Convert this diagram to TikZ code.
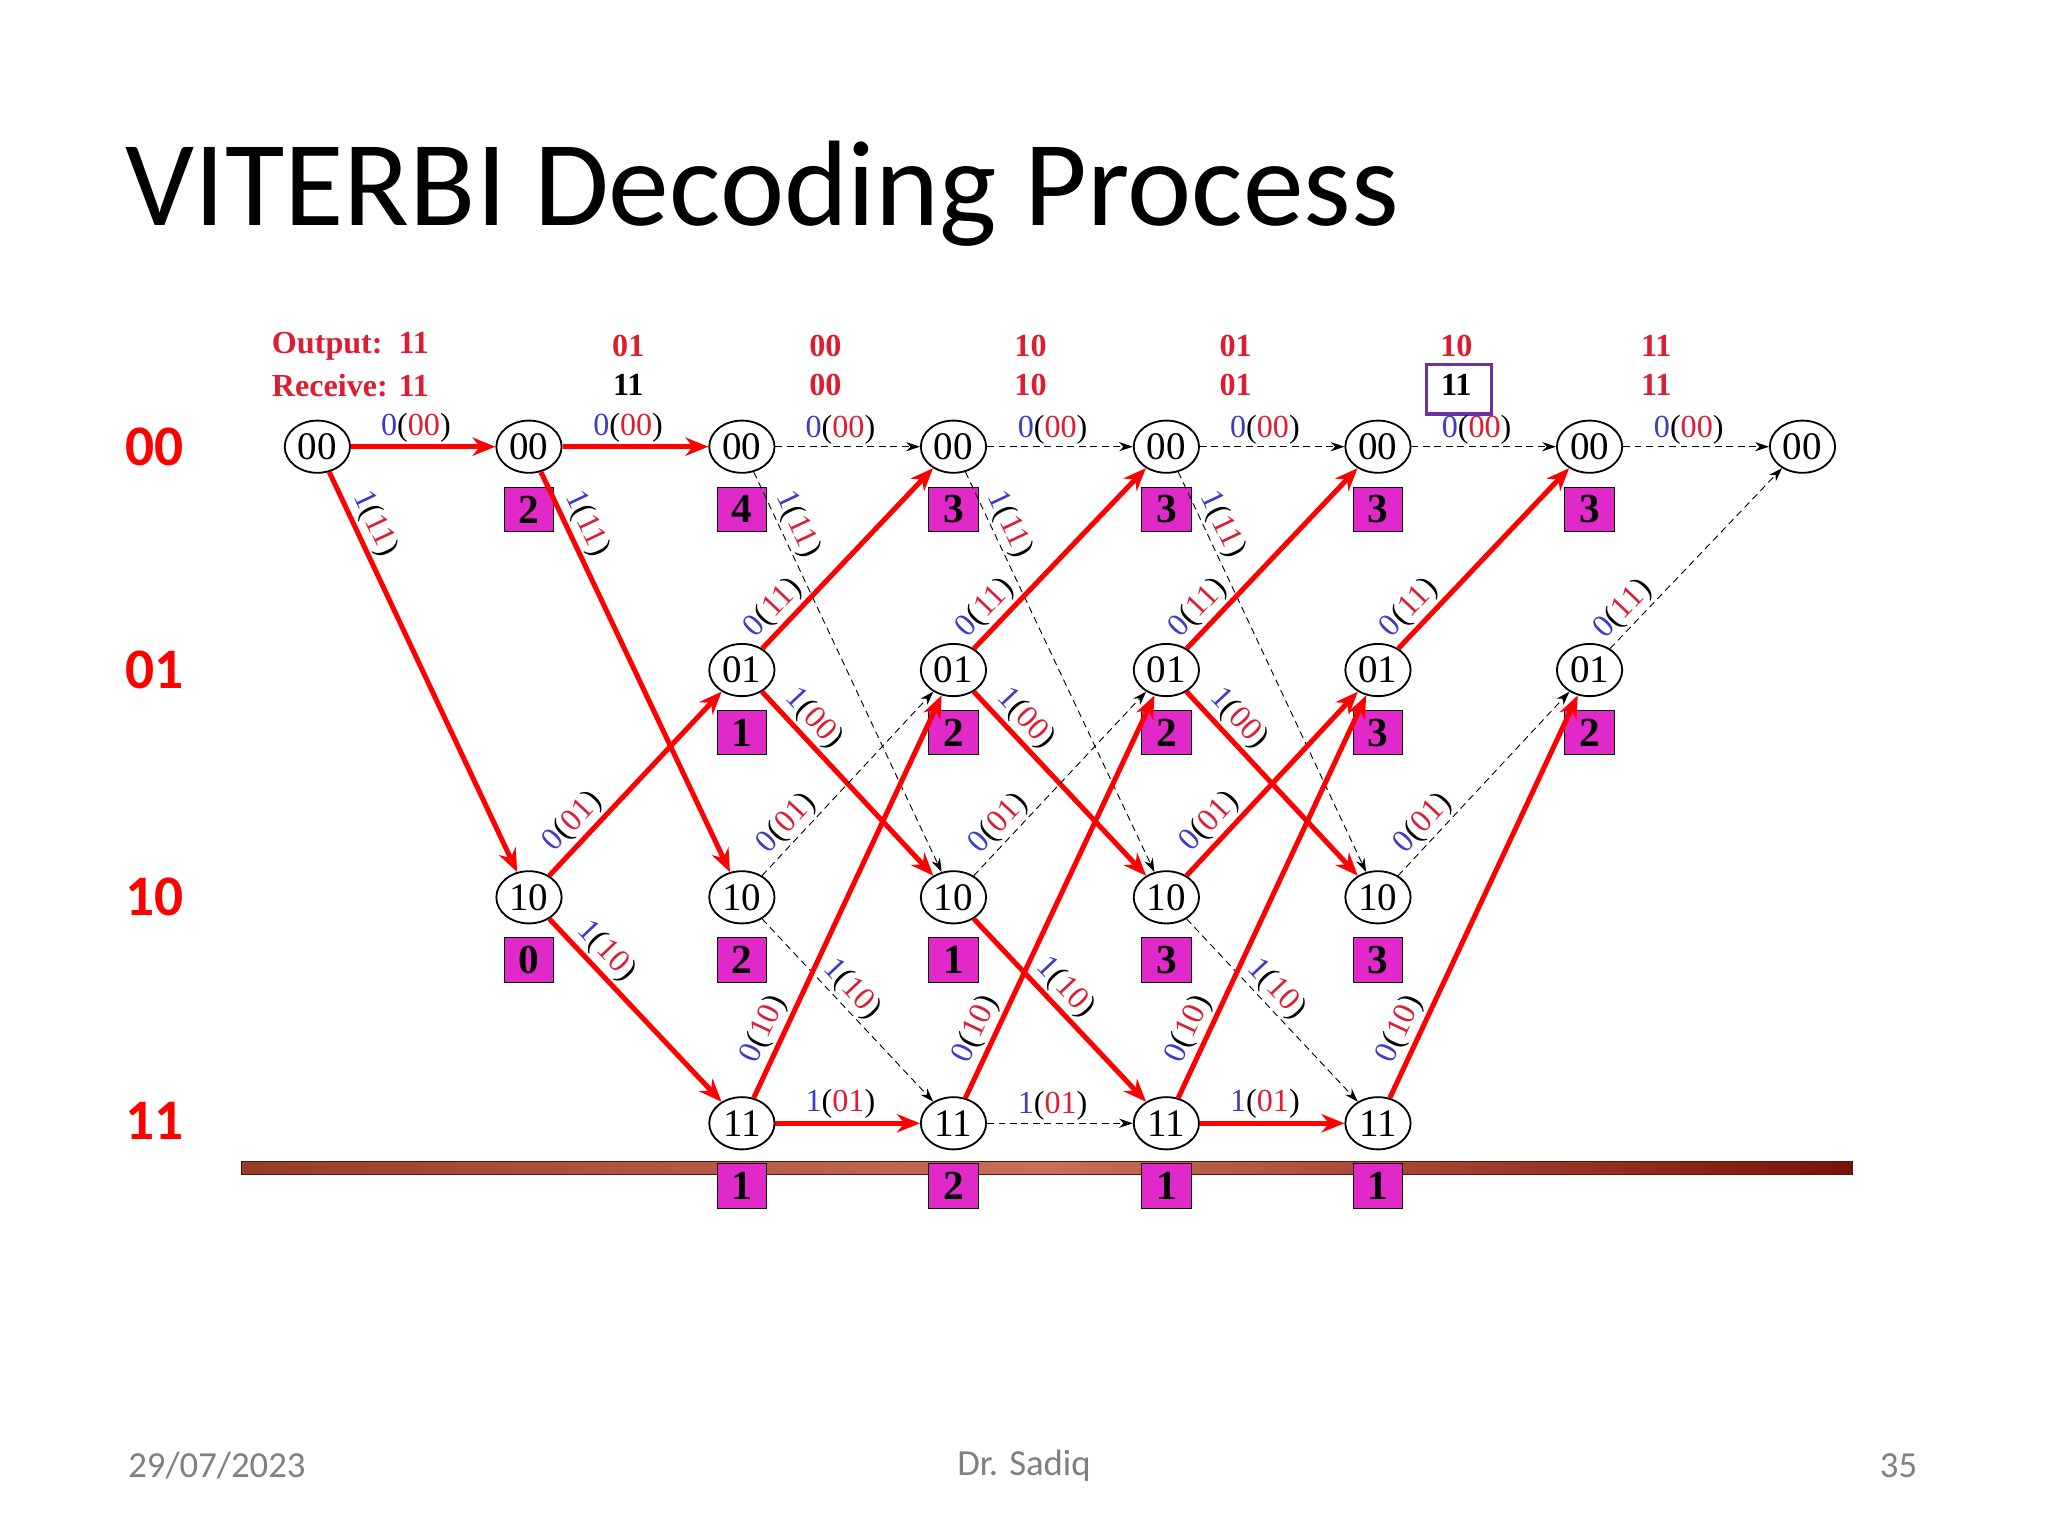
\documentclass[tikz,border=0pt]{standalone}
\usepackage{fontspec}
\setmainfont{Liberation Serif}
\newfontfamily\calib{Carlito}
\usetikzlibrary{shapes.geometric,arrows.meta}
\definecolor{lblue}{RGB}{60,60,200}
\definecolor{lred}{RGB}{220,30,50}
\definecolor{mag}{RGB}{225,40,200}
\newcommand{\lb}[2]{{\color{lblue}#1}(\textcolor{lred}{#2})}
\begin{document}
\begin{tikzpicture}[x=0.02cm,y=-0.02cm,
 st/.style={ellipse,draw,thick,minimum width=1.0cm,minimum height=0.8cm,inner sep=0pt,font=\fontsize{17}{17}\selectfont},
 mb/.style={draw,fill=mag,minimum width=0.76cm,minimum height=0.68cm,inner sep=0pt,font=\bfseries\fontsize{18}{18}\selectfont},
 rd/.style={draw=red,line width=2.2pt,-{Stealth[length=10pt,width=8pt]}},
 dsh/.style={draw=black,densely dashed,thin,-{Stealth[length=6pt,width=4pt]}},
 el/.style={sloped,above,inner sep=1pt,font=\fontsize{14}{14}\selectfont},
 hd/.style={font=\bfseries\fontsize{14}{14}\selectfont,text=lred},
 sl/.style={font=\calib\bfseries\fontsize{25}{25}\selectfont,text=red}]
\useasboundingbox (0,0) rectangle (1568,1176);
\node[anchor=west,font=\calib\fontsize{53}{53}\selectfont] at (90,148) {VITERBI Decoding Process};
% state labels
\node[sl] at (118,342) {00};
\node[sl] at (118,513) {01};
\node[sl] at (118,687) {10};
\node[sl] at (118,858) {11};
% header
\node[hd,anchor=west] at (202,265) {Output:\ \ 11};
\node[hd,anchor=west] at (202,295) {Receive: 11};
\foreach \x/\o/\r/\c in {481/01/11/black,632/00/00/lred,789/10/10/lred,946/01/01/lred,1115/10/11/black,1268/11/11/lred}{
  \node[hd] at (\x,265) {\o};
  \node[hd,text=\c] at (\x,295) {\r};
}
\draw[draw={rgb,255:red,110;green,50;blue,160},line width=1.5pt] (1092,279) rectangle (1142,317);
% bar
\shade[left color={rgb,255:red,150;green,60;blue,40},right color={rgb,255:red,120;green,20;blue,10},middle color={rgb,255:red,200;green,110;blue,90},draw={rgb,255:red,90;green,20;blue,10}] (185,889) rectangle (1418,899);
% nodes
\node[st] (a0) at (243,342) {00};
\node[st] (a1) at (405,342) {00};
\node[st] (c1) at (405,687) {10};
\foreach \i/\x in {2/568,3/730,4/893,5/1055}{
  \node[st] (a\i) at (\x,342) {00};
  \node[st] (b\i) at (\x,513) {01};
  \node[st] (c\i) at (\x,687) {10};
  \node[st] (d\i) at (\x,860) {11};
}
\node[st] (a6) at (1217,342) {00};
\node[st] (b6) at (1217,513) {01};
\node[st] (a7) at (1380,342) {00};
% metric boxes
\foreach \n/\v in {a1/2,c1/0,a2/4,b2/1,c2/2,d2/1,a3/3,b3/2,c3/1,d3/2,a4/3,b4/2,c4/3,d4/1,a5/3,b5/3,c5/3,d5/1,a6/3,b6/2}{
  \node[mb] at ([yshift=-0.96cm]\n.center) {\v};
}
% edges col0, col1
\draw[rd] (a0) -- node[el,pos=0.45]{\lb{0}{00}} (a1);
\draw[rd] (a0) -- node[el,pos=0.15]{\lb{1}{11}} (c1);
\draw[rd] (a1) -- node[el,pos=0.45]{\lb{0}{00}} (a2);
\draw[rd] (a1) -- node[el,pos=0.15]{\lb{1}{11}} (c2);
\draw[rd] (c1) -- node[el,pos=0.22]{\lb{0}{01}} (b2);
\draw[rd] (c1) -- node[el,pos=0.25]{\lb{1}{10}} (d2);
% col2
\draw[dsh] (a2) -- node[el,pos=0.45]{\lb{0}{00}} (a3);
\draw[dsh] (a2) -- node[el,pos=0.15]{\lb{1}{11}} (c3);
\draw[rd] (b2) -- node[el,pos=0.15]{\lb{0}{11}} (a3);
\draw[rd] (b2) -- node[el,pos=0.22]{\lb{1}{00}} (c3);
\draw[dsh] (c2) -- node[el,pos=0.22]{\lb{0}{01}} (b3);
\draw[dsh] (c2) -- node[el,pos=0.45]{\lb{1}{10}} (d3);
\draw[rd] (d2) -- node[el,pos=0.15]{\lb{0}{10}} (b3);
\draw[rd] (d2) -- node[el,pos=0.45]{\lb{1}{01}} (d3);
% col3
\draw[dsh] (a3) -- node[el,pos=0.45]{\lb{0}{00}} (a4);
\draw[dsh] (a3) -- node[el,pos=0.15]{\lb{1}{11}} (c4);
\draw[rd] (b3) -- node[el,pos=0.15]{\lb{0}{11}} (a4);
\draw[rd] (b3) -- node[el,pos=0.22]{\lb{1}{00}} (c4);
\draw[dsh] (c3) -- node[el,pos=0.22]{\lb{0}{01}} (b4);
\draw[rd] (c3) -- node[el,pos=0.45]{\lb{1}{10}} (d4);
\draw[rd] (d3) -- node[el,pos=0.15]{\lb{0}{10}} (b4);
\draw[dsh] (d3) -- node[el,pos=0.45]{\lb{1}{01}} (d4);
% col4
\draw[dsh] (a4) -- node[el,pos=0.45]{\lb{0}{00}} (a5);
\draw[dsh] (a4) -- node[el,pos=0.15]{\lb{1}{11}} (c5);
\draw[rd] (b4) -- node[el,pos=0.15]{\lb{0}{11}} (a5);
\draw[rd] (b4) -- node[el,pos=0.22]{\lb{1}{00}} (c5);
\draw[rd] (c4) -- node[el,pos=0.22]{\lb{0}{01}} (b5);
\draw[dsh] (c4) -- node[el,pos=0.45]{\lb{1}{10}} (d5);
\draw[rd] (d4) -- node[el,pos=0.15]{\lb{0}{10}} (b5);
\draw[rd] (d4) -- node[el,pos=0.45]{\lb{1}{01}} (d5);
% col5
\draw[dsh] (a5) -- node[el,pos=0.45]{\lb{0}{00}} (a6);
\draw[rd] (b5) -- node[el,pos=0.15]{\lb{0}{11}} (a6);
\draw[dsh] (c5) -- node[el,pos=0.22]{\lb{0}{01}} (b6);
\draw[rd] (d5) -- node[el,pos=0.15]{\lb{0}{10}} (b6);
% col6
\draw[dsh] (a6) -- node[el,pos=0.45]{\lb{0}{00}} (a7);
\draw[dsh] (b6) -- node[el,pos=0.15]{\lb{0}{11}} (a7);
% footer
\node[anchor=west,font=\calib\fontsize{16}{16}\selectfont,text=gray] at (92,1122) {29/07/2023};
\node[font=\calib\fontsize{16}{16}\selectfont,text=gray] at (784,1122) {Dr. Sadiq};
\node[anchor=east,font=\calib\fontsize{16}{16}\selectfont,text=gray] at (1474,1122) {35};
\end{tikzpicture}
\end{document}
